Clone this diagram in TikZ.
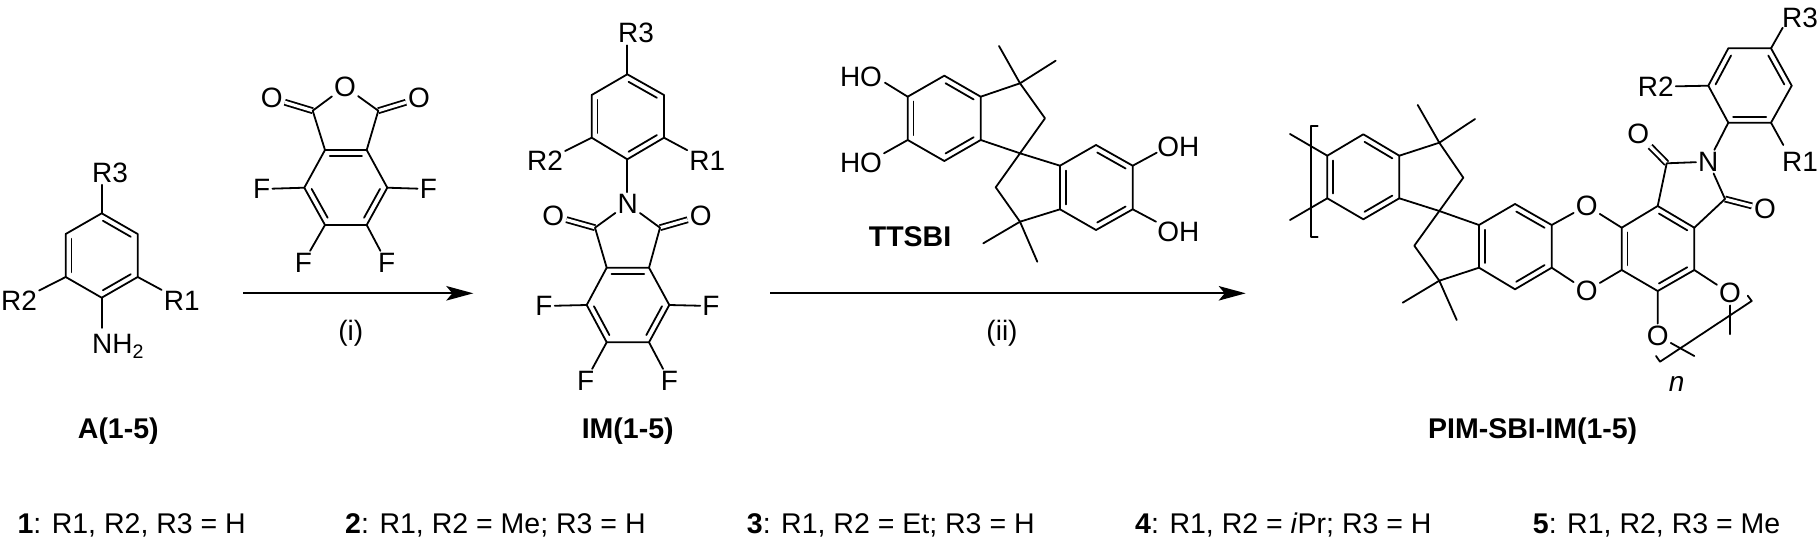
\documentclass[tikz,border=0pt]{standalone}
\usepackage{fontspec}
\setmainfont{Liberation Sans}
\usetikzlibrary{arrows.meta,calc}
\tikzset{
  bond/.style={line width=1.8pt,line join=round,line cap=round},
  cobond/.style={line width=1.8pt,double,double distance=3.2pt},
  atom/.style={font=\fontsize{28}{31}\selectfont,inner sep=2pt},
  name label/.style={font=\fontsize{28.5}{32}\selectfont\bfseries,inner sep=0pt,anchor=base},
  caption label/.style={font=\fontsize{28.5}{32}\selectfont,inner sep=0pt,anchor=base west},
  reaction/.style={line width=1.8pt,-{Stealth[length=27pt,width=14.5pt,inset=6pt]}}
}
% ring with its centre
\newcommand{\hexring}[1]{%
  \coordinate (#1c) at ($(#11)!.5!(#14)$);
  \draw[bond] (#11)--(#12)--(#13)--(#14)--(#15)--(#16)--cycle;}
% inner line of a double bond of a ring
\newcommand{\ringdbl}[3]{%
  \draw[bond] ($($(#1#2)!.04!(#1#3)$)!.16!(#1c)$) -- ($($(#1#3)!.04!(#1#2)$)!.16!(#1c)$);}
\begin{document}
\begin{tikzpicture}[x=1pt,y=-1pt]
\useasboundingbox (0,0) rectangle (1820,541);

% aniline
\foreach \n/\x/\y in {a1/101.7/213.3,a2/137.7/234,a3/137.7/277,a4/101.7/297.7,a5/65.7/277,a6/65.7/234}
  \coordinate (\n) at (\x,\y);
\hexring{a}
\ringdbl{a}{1}{2} \ringdbl{a}{3}{4} \ringdbl{a}{5}{6}
\node[atom] (ra3) at (110,172.7) {R3};
\node[atom] (ra2) at (19,300.7) {R2};
\node[atom] (ra1) at (181.7,300.7) {R1};
\node[atom,anchor=base west,inner ysep=6pt] (nh) at (90,353.3) {NH\textsubscript{2}};
\draw[bond] (a1) -- (a1 |- ra3.south);
\draw[bond] (a3) -- (ra1);
\draw[bond] (a5) -- (ra2);
\draw[bond] (a4) -- (a4 |- nh.north);
\node[name label] (namea) at (118.3,438) {A(1-5)};

% anhydride
\foreach \n/\x/\y in {p1/325/150,p2/366.7/150,p3/387.3/187.7,p4/366.7/225,p5/325/225,p6/304.3/187.7,pl/312.7/110.7,pr/378.3/110.7}
  \coordinate (\n) at (\x,\y);
\node[atom] (po) at (345,86.7) {O};
\node[atom] (pol) at (271.7,98.3) {O};
\node[atom] (por) at (419,98.3) {O};
\draw[cobond] (pl) -- (pol);
\draw[cobond] (pr) -- (por);
\hexring{p}
\ringdbl{p}{1}{2} \ringdbl{p}{3}{4} \ringdbl{p}{5}{6}
\draw[bond] (p1) -- (pl) -- (po) -- (pr) -- (p2);
\node[atom] (pfa) at (261.7,189) {F};
\node[atom] (pfb) at (428.3,189) {F};
\node[atom] (pfc) at (303.3,262.7) {F};
\node[atom] (pfd) at (386.7,262.7) {F};
\draw[bond] (p6) -- (pfa);
\draw[bond] (p3) -- (pfb);
\draw[bond] (p5) -- (pfc);
\draw[bond] (p4) -- (pfd);

% first arrow
\coordinate (ara) at (243.3,293.3);
\coordinate (arb) at (473.3,293.3);
\draw[reaction] (ara) -- (arb);
\node[atom,anchor=base] (stepa) at (350.7,340) {(i)};

% imide
\foreach \n/\x/\y in {b1/627.3/74.3,b2/664/95,b3/664/137.7,b4/627.3/159.3,b5/591.7/137.7,b6/591.7/95,
  q1/606.7/267.7,q2/649/267.7,q3/669.3/305,q4/649/342.3,q5/606.7/342.3,q6/586.7/305,ql/595/227.7,qr/660/227.7}
  \coordinate (\n) at (\x,\y);
\hexring{b}
\ringdbl{b}{1}{2} \ringdbl{b}{3}{4} \ringdbl{b}{5}{6}
\node[atom] (rb3) at (636,33.3) {R3};
\node[atom] (rb2) at (545,161) {R2};
\node[atom] (rb1) at (707.3,161) {R1};
\node[atom] (qn) at (627.7,204) {N};
\node[atom] (qol) at (553.3,216) {O};
\node[atom] (qor) at (700.7,216) {O};
\draw[bond] (b1) -- (b1 |- rb3.south);
\draw[bond] (b3) -- (rb1);
\draw[bond] (b5) -- (rb2);
\draw[bond] (b4) -- (b4 |- qn.north);
\draw[cobond] (ql) -- (qol);
\draw[cobond] (qr) -- (qor);
\hexring{q}
\ringdbl{q}{1}{2} \ringdbl{q}{3}{4} \ringdbl{q}{5}{6}
\draw[bond] (q1) -- (ql) -- (qn) -- (qr) -- (q2);
\node[atom] (qfa) at (544,306) {F};
\node[atom] (qfb) at (711,306) {F};
\node[atom] (qfc) at (585.7,380.7) {F};
\node[atom] (qfd) at (669.3,380.7) {F};
\draw[bond] (q6) -- (qfa);
\draw[bond] (q3) -- (qfb);
\draw[bond] (q5) -- (qfc);
\draw[bond] (q4) -- (qfd);
\node[name label] (nameb) at (627.7,438) {IM(1-5)};

% second arrow
\coordinate (arc) at (770,293.3);
\coordinate (ard) at (1245.7,293.3);
\draw[reaction] (arc) -- (ard);
\node[atom,anchor=base] (stepb) at (1002,340) {(ii)};

% spiro monomer
\foreach \n/\x/\y in {s1/944.3/75.7,s2/980.7/96.7,s3/980.7/140,s4/944.3/161,s5/907.7/140,s6/907.7/96.7,
  t1/1096/145,t2/1132.7/165.7,t3/1132.7/209.3,t4/1096/230,t5/1060/209.3,t6/1060/165.7,
  sqa/1020/83.3,sma/999/46,smb/1055.7/60.7,sca/1045/118.3,sx/1020/153.3,
  scb/995.7/187.3,sqb/1020/221.7,smc/983.3/243.3,smd/1037.3/261.7,
  hoend/885/82.7,hoendb/884/153.3,ohend/1156.7/152.7,ohendb/1156/221.7}
  \coordinate (\n) at (\x,\y);
\hexring{s}
\ringdbl{s}{1}{2} \ringdbl{s}{3}{4} \ringdbl{s}{5}{6}
\hexring{t}
\ringdbl{t}{1}{2} \ringdbl{t}{3}{4} \ringdbl{t}{5}{6}
\draw[bond] (s2) -- (sqa) -- (sca) -- (sx) -- (s3);
\draw[bond] (t6) -- (sx) -- (scb) -- (sqb) -- (t5);
\draw[bond] (sma) -- (sqa) -- (smb);
\draw[bond] (smc) -- (sqb) -- (smd);
\node[atom] (hoa) at (861,77.3) {HO};
\node[atom] (hob) at (861,162.7) {HO};
\node[atom] (oha) at (1178.3,146.7) {OH};
\node[atom] (ohb) at (1178.3,231.7) {OH};
\draw[bond] (s6) -- (hoend);
\draw[bond] (s5) -- (hoendb);
\draw[bond] (t2) -- (ohend);
\draw[bond] (t3) -- (ohendb);
\node[name label] (namec) at (910,246.7) {TTSBI};

% polymer
\foreach \n/\x/\y in {u1/1363.3/134.3,u2/1399.3/155.7,u3/1399.3/198.3,u4/1363.3/219.3,u5/1327.3/198.3,u6/1327.3/155.7,
  v1/1515/204,v2/1551.7/225,v3/1551.7/267.7,v4/1515/289.3,v5/1479/267.7,v6/1479/225,
  w1/1657.7/206,w2/1694.3/227.7,w3/1694.3/270,w4/1657.7/291,w5/1621.7/270,w6/1621.7/227.7,
  y1/1728.3/48.3,y2/1771/48.3,y3/1791.7/85.7,y4/1771/122.7,y5/1728.3/122.7,y6/1708.3/85.7,
  uqa/1439.3/142.7,uma/1417.7/105,umb/1475/119,uca/1463.3/177.7,ux/1439.3/211,
  ucb/1414.3/245.7,uqb/1439.3/280.7,umc/1402.7/302.7,umd/1456.7/320,
  wcu/1666.7/163.3,wcl/1725/199,
  enda/1290/134,endb/1290/220,
  bra/1317.7/126,brb/1310.7/126,brc/1310.7/236.7,brd/1317.7/236.7,
  bre/1656/356,brf/1660/361.7,brg/1751.7/301,brh/1747.7/295.7,
  endc/1730/334.3,endd/1694.3/356,
  rthree/1782.7/27.7,rone/1783.3/145}
  \coordinate (\n) at (\x,\y);
\node[atom] (wn) at (1708.3,161.7) {N};
\node[atom] (wou) at (1638.3,134.3) {O};
\node[atom] (wol) at (1765,209.3) {O};
\node[atom] (oc) at (1586.7,205.7) {O};
\node[atom] (od) at (1586.7,290.7) {O};
\node[atom] (oe) at (1730,293.3) {O};
\node[atom] (of) at (1657.7,335.7) {O};
\draw[cobond] (wcu) -- (wou);
\draw[cobond] (wcl) -- (wol);
\hexring{u}
\ringdbl{u}{1}{2} \ringdbl{u}{3}{4} \ringdbl{u}{5}{6}
\hexring{v}
\ringdbl{v}{1}{2} \ringdbl{v}{3}{4} \ringdbl{v}{5}{6}
\hexring{w}
\ringdbl{w}{1}{2} \ringdbl{w}{3}{4} \ringdbl{w}{5}{6}
\hexring{y}
\ringdbl{y}{2}{3} \ringdbl{y}{4}{5} \ringdbl{y}{6}{1}
\draw[bond] (u2) -- (uqa) -- (uca) -- (ux) -- (u3);
\draw[bond] (v6) -- (ux) -- (ucb) -- (uqb) -- (v5);
\draw[bond] (uma) -- (uqa) -- (umb);
\draw[bond] (umc) -- (uqb) -- (umd);
\draw[bond] (u6) -- (enda);
\draw[bond] (u5) -- (endb);
\draw[bond] (v2) -- (oc) -- (w6);
\draw[bond] (v3) -- (od) -- (w5);
\draw[bond] (w1) -- (wcu) -- (wn) -- (wcl) -- (w2);
\draw[bond] (y5) -- (wn);
\draw[bond] (w3) -- (oe) -- (endc);
\draw[bond] (w4) -- (of) -- (endd);
\draw[bond] (bra) -- (brb) -- (brc) -- (brd);
\draw[bond] (bre) -- (brf) -- (brg) -- (brh);
\node[atom] (rc3) at (1800,17.5) {R3};
\node[atom] (rc2) at (1655.7,86.7) {R2};
\node[atom] (rc1) at (1800,161.7) {R1};
\draw[bond] (y2) -- (rthree);
\draw[bond] (y6) -- (rc2);
\draw[bond] (y4) -- (rone);
\node[atom,anchor=base] (rep) at (1676.7,391) {\textit{n}};
\node[name label] (named) at (1532.7,438) {PIM-SBI-IM(1-5)};

% substituents
\node[caption label] (capa) at (17.3,533.3) {\textbf{1}: R1, R2, R3 = H};
\node[caption label] (capb) at (345,533.3) {\textbf{2}: R1, R2 = Me; R3 = H};
\node[caption label] (capc) at (746.7,533.3) {\textbf{3}: R1, R2 = Et; R3 = H};
\node[caption label] (capd) at (1135,533.3) {\textbf{4}: R1, R2 = \textit{i}Pr; R3 = H};
\node[caption label] (cape) at (1532.7,533.3) {\textbf{5}: R1, R2, R3 = Me};
\end{tikzpicture}
\end{document}
